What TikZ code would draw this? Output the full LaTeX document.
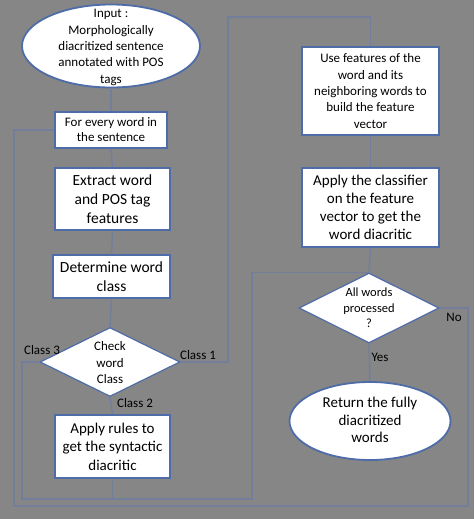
\documentclass[tikz,border=0pt]{standalone}
\usepackage{fontspec}
\setmainfont{Carlito}
\usetikzlibrary{shapes.geometric}
\definecolor{bg}{RGB}{134,134,134}
\definecolor{edge}{RGB}{78,108,168}
\definecolor{wirec}{RGB}{114,126,156}
\begin{document}
\begin{tikzpicture}[x=1pt,y=-1pt,
  box/.style={draw=edge, line width=1.8pt, fill=white, align=center, inner sep=0pt},
  oval/.style={ellipse, draw=edge, line width=1.8pt, fill=white, inner sep=0pt},
  dec/.style={diamond, draw=edge, line width=1.2pt, fill=white, inner sep=0pt},
  txt/.style={align=center, inner sep=0pt},
  wire/.style={draw=wirec, line width=1.5pt},
  lab/.style={font=\fontsize{13}{15}\selectfont, inner sep=0pt},
  fs/.style={font=\fontsize{13}{16.3}\selectfont},
  fl/.style={font=\fontsize{15.5}{19}\selectfont}]
\fill[bg] (0,0) rectangle (474,519);
\useasboundingbox (0,0) rectangle (474,519);
% coordinates for wire bends
\coordinate (c1) at (228,17);
\coordinate (c3) at (22,499);
\coordinate (c4) at (252,499);
\coordinate (n1) at (468,506);
\coordinate (n2) at (14,506);
% shapes
\node[oval, minimum width=178pt, minimum height=83pt] (in) at (111,46) {};
\node[box, minimum width=112pt, minimum height=36pt, font=\fontsize{13}{15}\selectfont] (for) at (111,130) {For every word in\\the sentence};
\node[box, fl, minimum width=115pt, minimum height=62pt] (ext) at (112.5,199) {Extract word\\and POS tag\\features};
\node[box, fl, minimum width=117pt, minimum height=43pt] (det) at (111.5,276.5) {Determine word\\class};
\node[dec, minimum width=140pt, minimum height=69pt] (chk) at (110,362) {};
\node[box, font=\fontsize{15}{18.5}\selectfont, minimum width=115pt, minimum height=63pt] (rules) at (112.5,446.5) {Apply rules to\\get the syntactic\\diacritic};
\node[box, fs, minimum width=137pt, minimum height=88pt] (use) at (370.5,91) {Use features of the\\word and its\\neighboring words to\\build the feature\\vector};
\node[box, font=\fontsize{15}{18}\selectfont, minimum width=137pt, minimum height=79pt] (cls) at (370.5,207.5) {Apply the classifier\\on the feature\\vector to get the\\word diacritic};
\node[dec, minimum width=140pt, minimum height=70pt] (done) at (369,308) {};
\node[oval, minimum width=161pt, minimum height=78pt] (ret) at (370,421) {};
% connectors
\draw[wire] (in.south) -- (for.north);
\draw[wire] (for.south) -- (ext.north);
\draw[wire] (ext.south) -- (det.north);
\draw[wire] (det.south) -- (chk.north);
\draw[wire] (chk.south) -- (rules.north);
\draw[wire] (chk.west) -| (c3) -- (c4) |- (done.north);
\draw[wire] (rules.south) -- (rules.south |- c3);
\draw[wire] (chk.east) -| (c1) -| (use.north);
\draw[wire] (use.south) -- (cls.north);
\draw[wire] (cls.south) -- (done.north);
\draw[wire] (done.south) -- (ret.north);
\draw[wire] (done.east) -| (n1) -- (n2) |- (for.west);
% texts inside shapes
\node[txt, fs] (intxt) at (111,47.5) {Input :\\Morphologically\\diacritized sentence\\annotated with POS\\tags};
\node[txt, font=\fontsize{13}{16.5}\selectfont] (chktxt) at (110,363) {Check\\word\\Class};
\node[txt, font=\fontsize{12.5}{15.5}\selectfont] (donetxt) at (369,308) {All words\\processed\\?};
\node[txt, font=\fontsize{15}{17.5}\selectfont] (rettxt) at (370,420) {Return the fully\\diacritized\\words};
% labels
\node[lab] (l3) at (42,350) {Class 3};
\node[lab] (l1) at (198,355) {Class 1};
\node[lab] (l2) at (135,403) {Class 2};
\node[lab] (lno) at (454,317) {No};
\node[lab] (lyes) at (380,357) {Yes};
\end{tikzpicture}
\end{document}
